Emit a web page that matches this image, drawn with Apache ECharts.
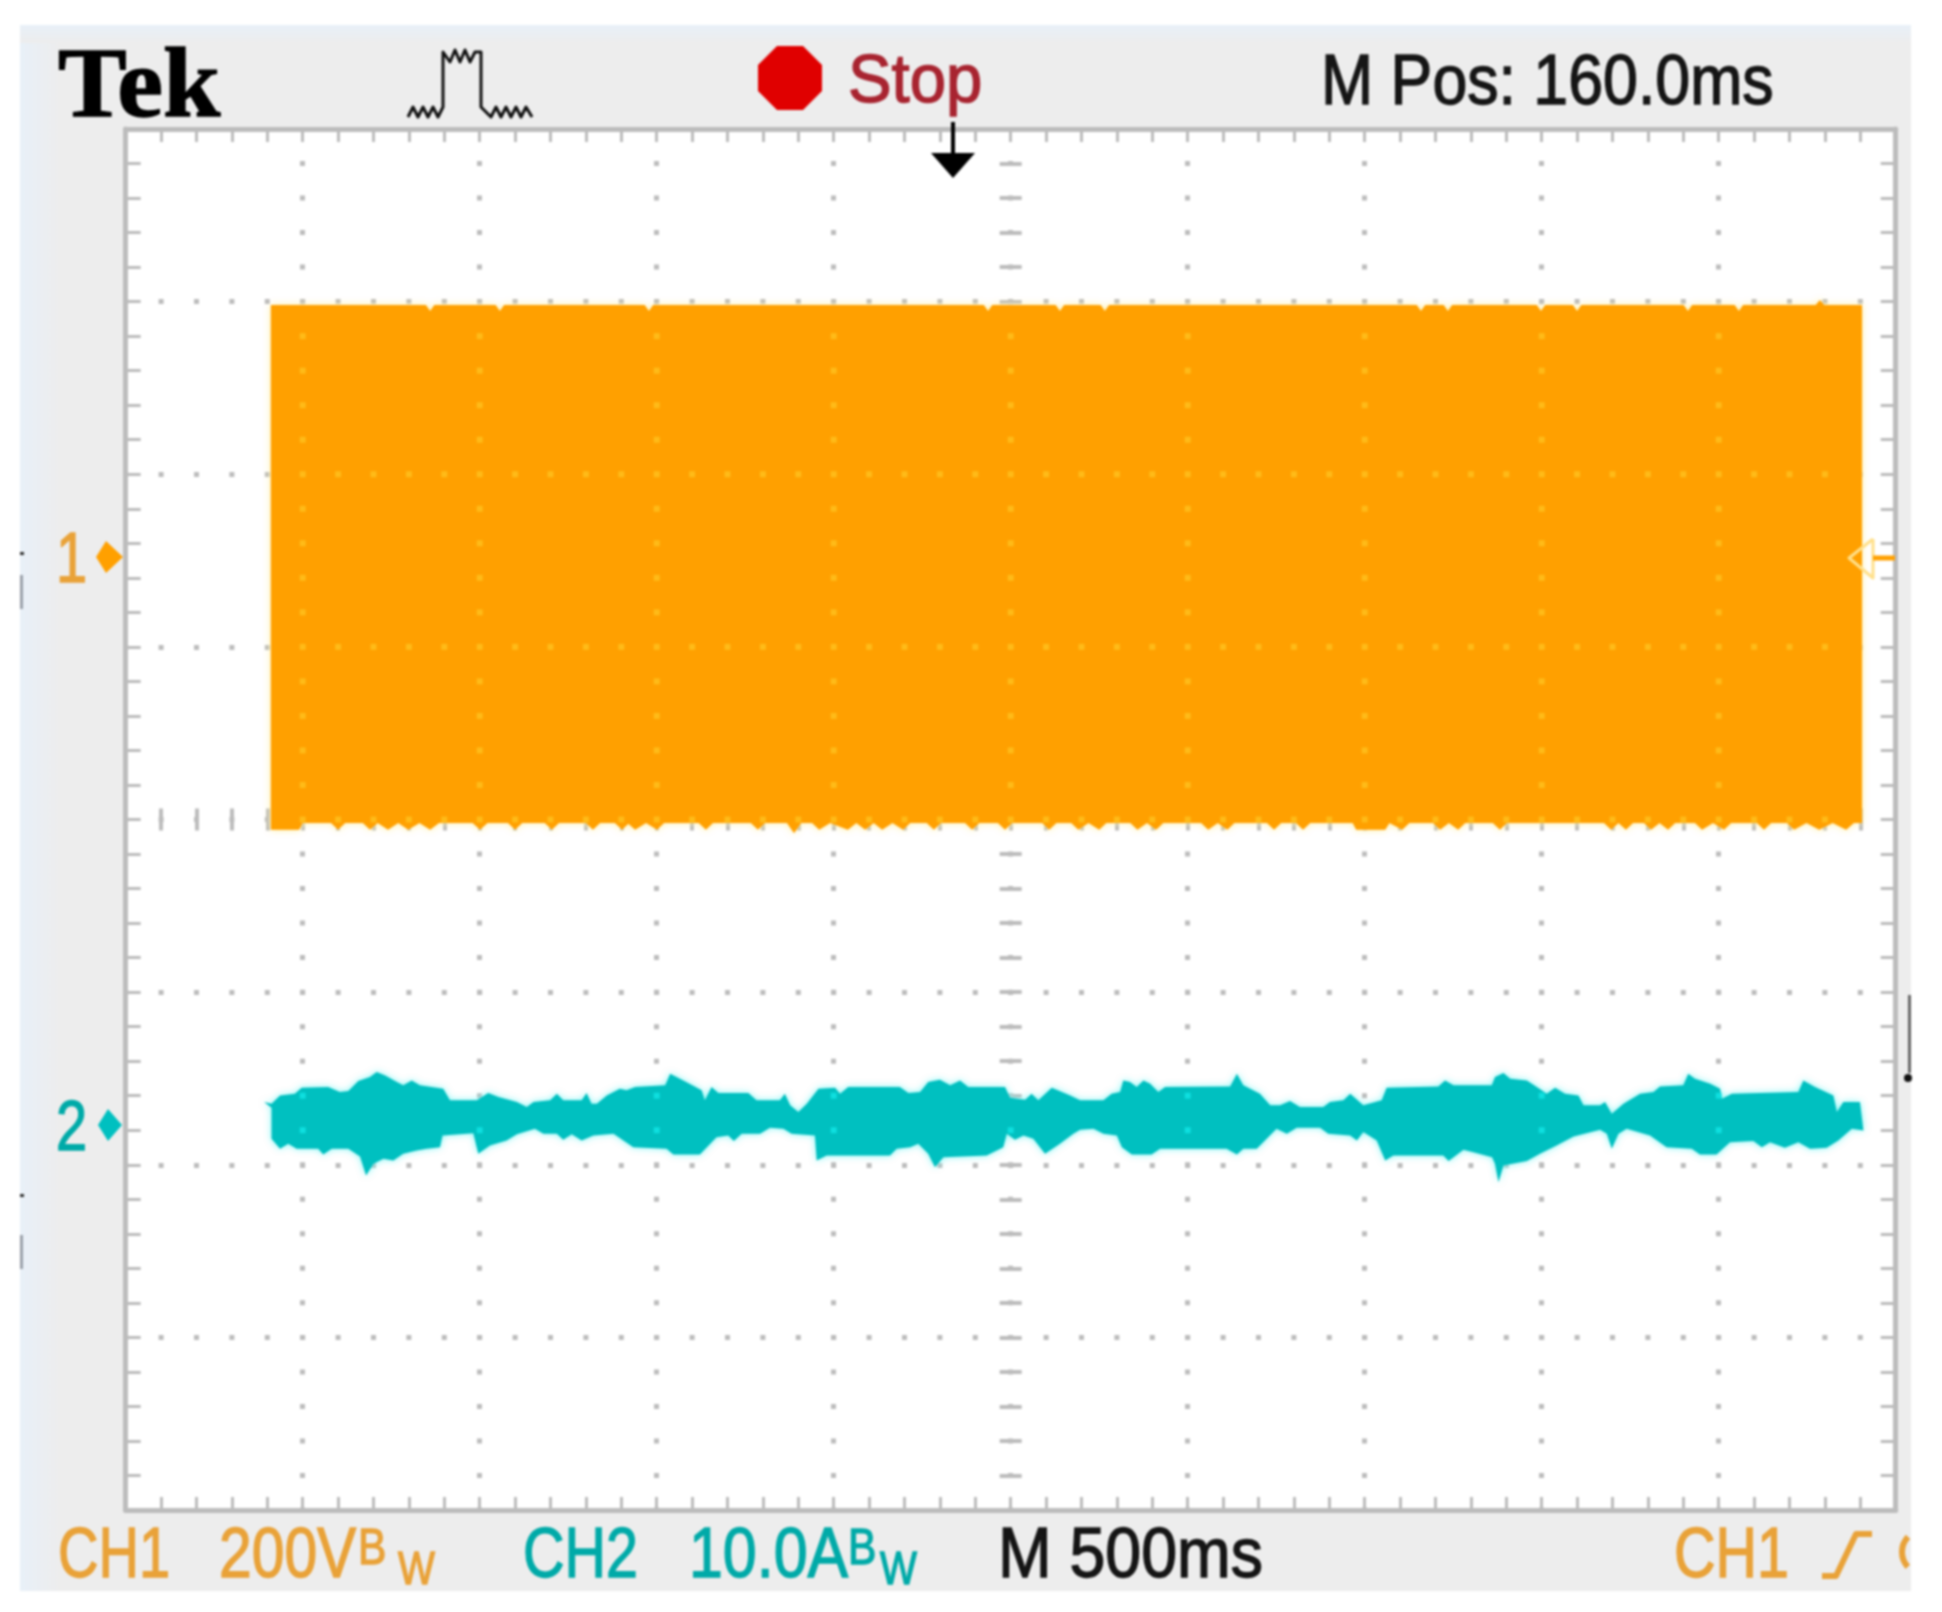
<!DOCTYPE html>
<html>
<head>
<meta charset="utf-8">
<script src="https://cdn.jsdelivr.net/npm/echarts@6/dist/echarts.min.js"></script>
<style>
html,body{margin:0;padding:0;background:#fff}
#c{width:1942px;height:1612px;filter:blur(1px)}
</style>
</head>
<body>
<div id="c"></div>
<script>
// Time in ms from the left graticule edge (500 ms/div); CH1 in volts, CH2 in amps.
const ch1Upper = [[410,292],[848,292],[860,285],[872,292],[1045,292],[1057,285],[1069,292],[1466,292],[1478,285],[1490,292],[2424,292],[2436,285],[2448,292],[2627,292],[2639,285],[2651,292],[2754,292],[2766,285],[2778,292],[3647,292],[3659,285],[3671,292],[3723,292],[3735,285],[3747,292],[3986,292],[3998,285],[4010,292],[4088,292],[4100,285],[4112,292],[4401,292],[4413,285],[4425,292],[4545,292],[4557,285],[4569,292],[4774,292],[4786,298],[4798,292],[4905,292]];
const ch1Lower = [[410,-316],[490,-316],[500,-308],[580,-308],[600,-316],[620,-308],[670,-308],[690,-316],[712,-308],[741,-316],[770,-308],[798,-316],[830,-308],[860,-316],[885,-308],[980,-308],[1001,-316],[1022,-308],[1080,-308],[1100,-316],[1120,-308],[1184,-308],[1204,-316],[1224,-308],[1300,-308],[1320,-316],[1340,-308],[1382,-308],[1402,-316],[1420,-309],[1439,-316],[1470,-308],[1501,-316],[1521,-308],[1619,-308],[1639,-316],[1659,-308],[1766,-308],[1786,-316],[1806,-308],[1868,-308],[1888,-320],[1908,-308],[1939,-308],[1959,-316],[1990,-308],[2040,-316],[2064,-308],[2089,-316],[2113,-308],[2137,-316],[2166,-308],[2196,-316],[2216,-308],[2263,-308],[2283,-316],[2303,-308],[2371,-308],[2391,-316],[2411,-308],[2464,-308],[2484,-316],[2504,-308],[2589,-308],[2609,-316],[2629,-308],[2671,-308],[2691,-316],[2720,-308],[2750,-316],[2770,-308],[2838,-308],[2858,-316],[2885,-308],[2911,-316],[2931,-308],[3038,-308],[3058,-316],[3085,-308],[3112,-316],[3132,-308],[3224,-308],[3244,-316],[3264,-308],[3306,-308],[3326,-316],[3346,-308],[3466,-308],[3476,-316],[3558,-316],[3570,-308],[3606,-316],[3626,-308],[3693,-308],[3713,-316],[3738,-308],[3764,-316],[3784,-308],[3862,-308],[3882,-316],[3902,-308],[4176,-308],[4196,-316],[4217,-308],[4238,-316],[4258,-308],[4289,-308],[4309,-316],[4333,-308],[4357,-316],[4377,-308],[4433,-308],[4453,-316],[4484,-308],[4515,-316],[4535,-308],[4608,-308],[4628,-316],[4648,-308],[4693,-308],[4713,-316],[4748,-308],[4784,-316],[4822,-308],[4860,-316],[4882,-308],[4905,-308]];
const ch2Upper = [[391,1.33],[412,1.23],[436,1.71],[478,1.81],[497,2.16],[572,2.20],[605,1.91],[629,1.97],[657,2.55],[690,2.78],[709,3.07],[733,2.87],[766,2.49],[784,2.30],[808,2.58],[831,2.30],[897,2.10],[916,1.43],[992,1.43],[1024,1.85],[1053,1.62],[1105,1.33],[1133,1.04],[1152,1.33],[1199,1.43],[1218,1.81],[1236,1.43],[1288,1.43],[1302,1.85],[1316,1.23],[1331,1.23],[1359,1.71],[1396,2.10],[1415,2.01],[1439,2.20],[1524,2.30],[1538,2.97],[1575,2.58],[1627,2.01],[1636,1.43],[1655,2.20],[1674,1.85],[1759,1.85],[1782,1.43],[1848,1.43],[1862,1.81],[1877,1.14],[1900,0.75],[1924,1.23],[1957,2.10],[2004,2.16],[2018,1.81],[2041,2.20],[2187,2.20],[2211,1.85],[2244,1.91],[2267,2.49],[2300,2.62],[2329,2.30],[2357,2.58],[2380,2.20],[2484,2.20],[2498,1.58],[2541,1.46],[2559,1.81],[2578,1.43],[2616,2.16],[2668,1.71],[2696,1.43],[2762,1.43],[2785,1.81],[2809,1.91],[2818,2.58],[2837,2.49],[2856,2.20],[2875,2.58],[2894,2.39],[2917,1.91],[2936,2.20],[3120,2.24],[3139,2.97],[3157,2.30],[3204,1.81],[3233,1.14],[3261,1.14],[3289,1.39],[3317,1.04],[3383,1.04],[3402,1.33],[3440,1.43],[3459,1.81],[3496,1.14],[3548,1.43],[3562,2.16],[3708,2.24],[3727,2.58],[3751,2.30],[3859,2.30],[3868,2.78],[3892,3.01],[3911,2.68],[3958,2.58],[4000,2.01],[4014,1.81],[4038,2.16],[4066,1.81],[4104,1.71],[4118,1.14],[4165,1.14],[4179,1.33],[4198,0.65],[4231,1.23],[4278,1.81],[4316,1.91],[4334,2.24],[4400,2.30],[4414,2.97],[4433,2.68],[4476,2.39],[4504,2.10],[4509,1.52],[4537,1.81],[4725,1.91],[4739,2.58],[4772,2.20],[4824,1.71],[4834,0.75],[4852,1.33],[4899,1.33],[4909,-0.31]];
const ch2Lower = [[412,1.00],[412,-0.79],[436,-1.37],[459,-1.08],[483,-1.37],[544,-1.37],[558,-1.70],[582,-1.37],[629,-1.37],[662,-1.82],[679,-2.92],[700,-2.24],[728,-1.95],[756,-2.05],[784,-1.66],[822,-1.47],[850,-1.37],[888,-1.28],[895,-0.60],[982,-0.47],[996,-1.66],[1029,-1.18],[1076,-0.89],[1105,-0.54],[1156,-0.22],[1180,-0.51],[1218,-0.51],[1236,-0.85],[1260,-0.54],[1288,-0.89],[1321,-0.60],[1378,-0.51],[1434,-1.28],[1528,-1.37],[1547,-1.70],[1622,-1.70],[1669,-0.70],[1702,-0.60],[1718,-0.93],[1740,-0.51],[1792,-0.51],[1820,-0.16],[1858,-0.22],[1881,-0.51],[1947,-0.60],[1952,-2.05],[1980,-1.76],[2159,-1.76],[2178,-1.37],[2216,-1.28],[2239,-1.08],[2267,-1.66],[2286,-2.44],[2310,-1.86],[2432,-1.76],[2479,-1.28],[2489,-0.51],[2512,-0.85],[2536,-0.60],[2564,-0.79],[2597,-1.66],[2639,-1.08],[2677,-0.51],[2696,-0.27],[2734,-0.22],[2762,-0.51],[2800,-0.60],[2814,-1.28],[2842,-1.70],[2898,-1.70],[2922,-1.37],[3110,-1.37],[3139,-1.70],[3157,-1.37],[3195,-1.37],[3251,-0.22],[3280,-0.51],[3308,-0.16],[3374,-0.16],[3397,-0.51],[3459,-0.60],[3478,-0.89],[3496,-0.41],[3534,-0.89],[3558,-2.05],[3581,-1.76],[3722,-1.76],[3737,-2.09],[3779,-1.43],[3807,-1.57],[3860,-1.86],[3868,-2.24],[3878,-3.31],[3892,-2.34],[3958,-2.09],[3995,-1.66],[4042,-1.18],[4090,-0.66],[4165,-0.27],[4184,-0.51],[4198,-1.37],[4217,-0.51],[4240,-0.22],[4306,-0.60],[4353,-1.28],[4424,-1.37],[4447,-1.70],[4494,-1.70],[4532,-0.99],[4598,-0.93],[4622,-1.28],[4645,-0.99],[4687,-1.32],[4725,-0.99],[4758,-1.37],[4805,-1.32],[4838,-0.89],[4876,-0.22],[4909,-0.31]];

const ORANGE = '#ffa000', TEAL = '#00c0c0', GRID = '#bcbcbc';
const ORANGE_TXT = '#e9a238', TEAL_TXT = '#00aaa8';
const SANS = 'Liberation Sans', SERIF = 'Liberation Serif';

const L = 125.7, T = 129, W = 1770, H = 1381;          // plot rectangle
const V_MAX = 496, V_MIN = -1104, A_MAX = 57.7, A_MIN = -22.3;
const rowToV = r => V_MIN + (V_MAX - V_MIN) * r / 8;
const rowToA = r => A_MIN + (A_MAX - A_MIN) * r / 8;

function interp(pts, t) {
  for (let i = 1; i < pts.length; i++) {
    if (t <= pts[i][0] && pts[i][0] > pts[i-1][0]) {
      const f = (t - pts[i-1][0]) / (pts[i][0] - pts[i-1][0]);
      return pts[i-1][1] + f * (pts[i][1] - pts[i-1][1]);
    }
  }
  return pts[pts.length-1][1];
}
// graticule dots that sit on top of a waveform are shown brighter in the original
const lattice = [];
for (let k = 1; k < 10; k++) for (let m = 1; m < 40; m++) lattice.push([k * 500, m / 5]);
for (let j = 1; j < 8; j++) for (let m = 1; m < 50; m++) if (m % 5) lattice.push([m * 100, j]);
function inside(up, lo, toVal) {
  const margin = up === ch2Upper ? 0.3 : 3;
  return lattice.filter(p => {
    if (p[0] < up[0][0] + 12 || p[0] > up[up.length-1][0] - 12) return false;
    const v = toVal(p[1]);
    return v < interp(up, p[0]) - margin && v > interp(lo, p[0]) + margin;
  });
}
const ch1Dots = inside(ch1Upper, ch1Lower, rowToV);
const ch2Dots = inside(ch2Upper, ch2Lower, rowToA);

function band(name, up, lo, yIndex, color, glow) {
  const outline = up.concat(lo.slice().reverse());
  return {
    type: 'custom', name, coordinateSystem: 'cartesian2d', xAxisIndex: 0, yAxisIndex: yIndex,
    z: 3, silent: true, animation: false, clip: false,
    encode: { x: 0, y: 1 }, data: outline,
    renderItem(params, api) {
      if (params.dataIndex !== 0) return null;
      return {
        type: 'polygon',
        shape: { points: outline.map(p => api.coord(p)) },
        style: { fill: color, shadowBlur: 7, shadowColor: glow }
      };
    }
  };
}
function dots(name, data, color) {
  return { type: 'scatter', name, xAxisIndex: 0, yAxisIndex: 0, z: 5, silent: true, animation: false,
    symbol: 'rect', symbolSize: 6, itemStyle: { color }, data };
}

function xAx(extra) {
  return Object.assign({ type: 'value', min: 0, max: 5000, interval: 500, axisLabel: { show: false },
    splitLine: { show: false }, minorTick: { show: true, splitNumber: 5, length: 13, lineStyle: { color: GRID, width: 3 } },
    axisTick: { show: true, inside: true, length: 13, lineStyle: { color: GRID, width: 3 } },
    axisLine: { show: true, onZero: false, lineStyle: { color: GRID, width: 5 } } }, extra);
}
function yAx(extra) {
  return Object.assign({ type: 'value', min: 0, max: 8, interval: 1, axisLabel: { show: false },
    splitLine: { show: false }, minorTick: { show: true, splitNumber: 5, length: 15, lineStyle: { color: GRID, width: 3 } },
    axisTick: { show: true, inside: true, length: 15, lineStyle: { color: GRID, width: 3 } },
    axisLine: { show: true, onZero: false, lineStyle: { color: GRID, width: 5 } } }, extra);
}

// y is the text's baseline; zrender places text by the top of its line box
function txt(text, x, y, size, sx, fill, opt) {
  opt = opt || {};
  const heavy = opt.heavy === undefined ? 1.4 : opt.heavy;
  return { type: 'text', x, y: y - size * 0.78, scaleX: sx, z: 20, silent: true,
    style: { text, fill, stroke: heavy ? fill : null, lineWidth: heavy,
      font: (opt.weight || 'normal') + ' ' + size + 'px "' + (opt.family || SANS) + '"',
      align: 'left', verticalAlign: 'top', shadowBlur: opt.glow ? 4 : 0, shadowColor: opt.glow || 'transparent' } };
}
function line(points, stroke, w) {
  return { type: 'polyline', z: 20, silent: true, shape: { points }, style: { stroke, lineWidth: w, fill: 'none', lineJoin: 'round' } };
}
function poly(points, fill) {
  return { type: 'polygon', z: 20, silent: true, shape: { points }, style: { fill } };
}
function rect(x, y, w, h, fill, z) {
  return { type: 'rect', z: z === undefined ? -10 : z, silent: true, shape: { x, y, width: w, height: h }, style: { fill } };
}

const graphics = [
  rect(20, 25, 1891, 1566, '#ededed'),
  { type: 'rect', z: -9, silent: true, shape: { x: 20, y: 25, width: 40, height: 1566 },
    style: { fill: { type: 'linear', x: 0, y: 0, x2: 1, y2: 0, colorStops: [{ offset: 0, color: '#e8f0f8' }, { offset: 1, color: '#ededed' }] } } },
  { type: 'rect', z: -9, silent: true, shape: { x: 20, y: 25, width: 1891, height: 18 },
    style: { fill: { type: 'linear', x: 0, y: 0, x2: 0, y2: 1, colorStops: [{ offset: 0, color: '#e8f0f8' }, { offset: 1, color: '#ededed' }] } } },
  rect(20, 552, 4, 3, '#333', 20), rect(20, 575, 3, 34, '#9aa0aa', 20),
  rect(20, 1194, 4, 3, '#333', 20), rect(20, 1235, 3, 34, '#9aa0aa', 20),
  rect(1908, 995, 3, 78, '#666', 20),
  { type: 'circle', z: 20, silent: true, shape: { cx: 1908, cy: 1078, r: 4 }, style: { fill: '#111' } },

  txt('Tek', 58, 118, 100, 1.03, '#000', { weight: 'bold', family: SERIF }),
  line([[408,117],[413,107],[418,117],[423,107],[428,117],[433,107],[438,117],[443,107],[443,52],[450,62],[455,50],[460,62],[465,50],[470,62],[475,52],[481,52],[481,107],[491,117],[496,107],[501,117],[506,107],[511,117],[516,107],[521,117],[526,107],[532,117]], '#111', 3),
  poly([[777,46],[803,46],[822,65],[822,91],[803,110],[777,110],[758,91],[758,65]], '#e00000'),
  txt('Stop', 848, 102, 68, 0.96, '#a82430'),
  txt('M Pos: 160.0ms', 1321, 104, 70, 0.895, '#151515'),

  line([[953,122],[953,160]], '#000', 4),
  poly([[931,153],[975,153],[953,178]], '#000'),

  txt('1', 56, 582, 70, 0.8, ORANGE_TXT, { glow: '#ffe9b0' }),
  poly([[96,557],[106,541],[123,557],[106,573]], ORANGE),
  txt('2', 56, 1150, 70, 0.8, TEAL_TXT, { glow: '#b0f5f5' }),
  poly([[98,1125],[108,1109],[122,1125],[108,1141]], TEAL),

  line([[1873,539],[1849,558],[1873,578],[1873,539]], '#ffe08a', 3),
  line([[1873,558],[1895,558]], ORANGE, 5),

  txt('CH1', 58, 1577, 70, 0.8, ORANGE_TXT),
  txt('200V', 219, 1577, 70, 0.84, ORANGE_TXT),
  txt('B', 358, 1564, 50, 0.85, ORANGE_TXT),
  txt('W', 398, 1584, 46, 0.85, ORANGE_TXT),
  txt('CH2', 523, 1577, 70, 0.82, TEAL_TXT),
  txt('10.0A', 689, 1577, 70, 0.87, TEAL_TXT),
  txt('B', 848, 1564, 50, 0.85, TEAL_TXT),
  txt('W', 880, 1584, 46, 0.85, TEAL_TXT),
  txt('M 500ms', 998, 1577, 70, 0.92, '#151515'),
  txt('CH1', 1674, 1577, 70, 0.82, ORANGE_TXT),
  line([[1822,1576],[1836,1576],[1856,1534],[1872,1534]], ORANGE_TXT, 6),
  { type: 'arc', z: 20, silent: true, shape: { cx: 1924, cy: 1552, r: 22, startAngle: 2.4, endAngle: 3.9 }, style: { stroke: ORANGE_TXT, lineWidth: 6, fill: 'none' } }
];

const option = {
  backgroundColor: '#ffffff',
  animation: false,
  grid: { left: L, top: T, width: W, height: H, show: true, backgroundColor: '#ffffff', borderWidth: 0, containLabel: false },
  xAxis: [
    xAx({ position: 'bottom', splitLine: { show: true, showMinLine: false, showMaxLine: false,
      lineStyle: { color: GRID, width: 5, type: [5, 29.525], dashOffset: 2.5 } } }),
    xAx({ position: 'top' }),
    xAx({ position: 'bottom', offset: -679.5, axisLine: { show: false, onZero: false },
      axisTick: { show: true, inside: true, length: 22, lineStyle: { color: GRID, width: 4 } },
      minorTick: { show: true, splitNumber: 5, length: 22, lineStyle: { color: GRID, width: 4 } } })
  ],
  yAxis: [
    yAx({ position: 'left', splitLine: { show: true, showMinLine: false, showMaxLine: false,
      lineStyle: { color: GRID, width: 5, type: [5, 30.4], dashOffset: 2.5 } } }),
    yAx({ position: 'right' }),
    yAx({ position: 'left', offset: -874, axisLine: { show: false, onZero: false },
      axisTick: { show: true, inside: true, length: 22, lineStyle: { color: GRID, width: 4 } },
      minorTick: { show: true, splitNumber: 5, length: 22, lineStyle: { color: GRID, width: 4 } } }),
    { type: 'value', show: false, min: V_MIN, max: V_MAX },
    { type: 'value', show: false, min: A_MIN, max: A_MAX }
  ],
  series: [
    band('CH1', ch1Upper, ch1Lower, 3, ORANGE, '#fff0a0'),
    band('CH2', ch2Upper, ch2Lower, 4, TEAL, '#80f5f5'),
    dots('CH1 graticule', ch1Dots, '#ffc21e'),
    dots('CH2 graticule', ch2Dots, '#12e6e6')
  ],
  graphic: { elements: graphics }
};
const chart = echarts.init(document.getElementById('c'), null, { width: 1942, height: 1612 });
chart.setOption(option);
</script>
</body>
</html>
